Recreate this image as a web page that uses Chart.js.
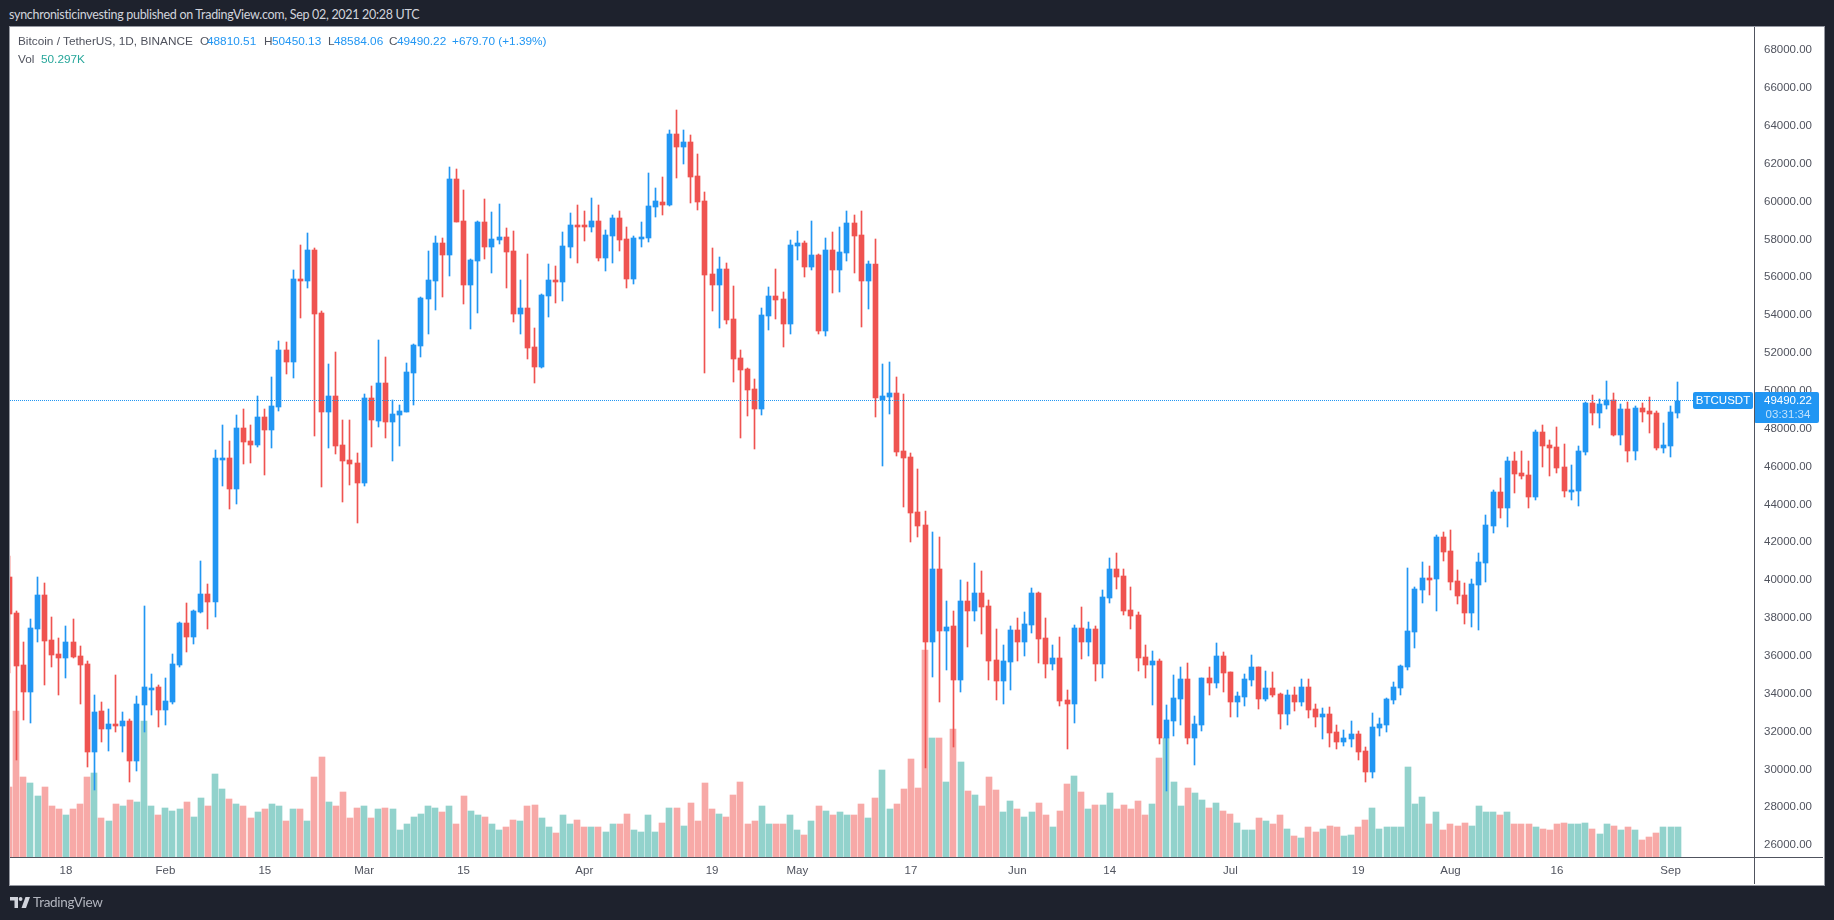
<!DOCTYPE html>
<html>
<head>
<meta charset="utf-8">
<title>BTCUSDT</title>
<script src="https://cdn.jsdelivr.net/npm/chart.js@4/dist/chart.umd.min.js"></script>
<style>
  html, body { margin: 0; padding: 0; background: #1e222d; width: 1834px; height: 920px; overflow: hidden; }
  body { position: relative; font-family: "Liberation Sans", sans-serif; }
  #frame { position: absolute; left: 9px; top: 26px; width: 1814px; height: 858px; background: #fff; border: 1px solid #9598a1; }
  #chart { position: absolute; left: 0; top: 0; }
  .rule { position: absolute; background: #50535e; }
  .txt { position: absolute; white-space: nowrap; font-size: 11.8px; line-height: 14px; color: #50535e; }
  .val { color: #2196f3; }
  #pub { position: absolute; left: 9px; top: 6px; font-family: Lato, sans-serif; font-size: 12.5px; letter-spacing: -0.3px; line-height: 17px; color: #d1d4dc; white-space: nowrap; }
  #brand { position: absolute; left: 33px; top: 893px; font-family: Lato, sans-serif; font-size: 13.5px; letter-spacing: -0.3px; line-height: 18px; color: #b2b5be; }
  #logo { position: absolute; left: 10px; top: 897px; }
</style>
</head>
<body>
<div id="pub">synchronisticinvesting published on TradingView.com, Sep 02, 2021 20:28 UTC</div>
<div id="frame"></div>
<canvas id="chart" width="1834" height="920"></canvas>
<div class="rule" style="left:10px;top:857px;width:1813px;height:1px"></div>
<div class="rule" style="left:1754px;top:27px;width:1px;height:857px"></div>

<span class="txt" style="left:18px;top:34px">Bitcoin / TetherUS, 1D, BINANCE</span>
<span class="txt" style="left:200px;top:34px">O</span><span class="txt val" style="left:207px;top:34px">48810.51</span>
<span class="txt" style="left:264px;top:34px">H</span><span class="txt val" style="left:272px;top:34px">50450.13</span>
<span class="txt" style="left:328px;top:34px">L</span><span class="txt val" style="left:334px;top:34px">48584.06</span>
<span class="txt" style="left:389px;top:34px">C</span><span class="txt val" style="left:397px;top:34px">49490.22</span>
<span class="txt val" style="left:452px;top:34px">+679.70 (+1.39%)</span>
<span class="txt" style="left:18px;top:52px">Vol</span><span class="txt" style="left:41px;top:52px;color:#26a69a">50.297K</span>

<svg id="logo" width="20" height="11" viewBox="0 0 20 11">
  <path fill="#d1d4dc" d="M0 0h8v11H4.5V3.6H0z"/>
  <circle fill="#d1d4dc" cx="10.6" cy="2" r="1.9"/>
  <path fill="#d1d4dc" d="M15.5 0H20l-4 11h-4.5z"/>
</svg>
<div id="brand">TradingView</div>

<script>
// ── Data (Jan 10 → Sep 2, 2021, one entry per day) ─────────────────────────────

const opens = [
  40156,38254,35504,34077,37423,39205,36824,36085,35873,36719,
  35979,35556,30907,33073,32122,32387,32281,32545,30432,33390,
  34300,34341,33126,33549,35504,37722,36983,38307,39258,38835,
  46400,46443,44805,48028,47341,47130,48609,47922,49137,52148,
  51514,55885,55797,57434,54103,48873,49718,47130,46337,46179,
  45122,49613,48397,50405,48345,48715,48873,50933,52360,54846,
  55797,57803,57169,61184,58966,55585,56852,58913,57592,57962,
  58120,57381,54052,54369,52309,51252,55003,55849,55743,57592,
  58740,58754,58649,58966,57011,58173,59124,58015,55901,58015,
  58067,59705,59969,59811,63562,62875,63139,61343,60022,56166,
  55585,56430,53788,51728,51147,50090,49033,53947,55003,54845,
  53524,57645,57803,56535,57169,53154,57433,56377,57275,58860,
  58226,55796,56694,49509,49667,49876,46812,46495,43590,42903,
  36719,40578,37303,37567,34711,38888,38359,39310,38624,35768,
  34658,35662,37353,36719,37620,39310,36930,35556,35873,33655,
  33443,37458,36719,37405,35556,39046,40578,40208,38413,38148,
  35926,35504,35715,31647,32545,33708,34764,31647,32334,34817,
  34553,35979,35134,33549,33813,34711,35398,33707,34289,33972,
  32915,33919,33549,34341,33179,32756,32915,31964,31436,31594,
  31859,30960,29851,32175,32334,33655,34289,35398,37249,39468,
  40085,40049,42268,41528,39944,39204,38253,39732,40894,42849,
  44645,43800,46283,45649,45544,44381,47815,47128,47023,45966,
  44730,44698,46758,49347,48819,49242,49506,47657,49030,46811,
  49083,48925,48819,46970,47076,48810.51
];
const highs = [
  41300,38360,36719,37938,40156,39839,38043,36930,37564,37938,
  36507,35715,33919,33549,33179,34975,33021,32651,33866,38624,
  35028,34447,34817,36085,37800,38783,38413,41002,39786,46866,
  48186,47341,48715,49032,48186,49718,49032,50722,52624,52571,
  56378,57698,58333,57540,54209,51409,52043,48450,48450,46707,
  49824,50247,52677,51779,49507,49243,51462,52450,54950,57382,
  58174,58067,61818,61713,60603,56958,58966,60128,59441,59864,
  58596,58437,55849,57222,53313,55109,56694,56588,58384,59388,
  59811,59494,60181,59811,58490,59282,59494,58649,58173,58913,
  61501,60709,61290,63773,64830,63773,63509,62505,60498,57539,
  57064,56747,55532,52150,51200,50618,54369,55479,56430,55214,
  57962,58437,57909,58966,57222,58067,58384,58649,59494,59283,
  59494,56852,58015,51411,51517,50722,49824,46707,45861,43642,
  42533,42269,38888,38359,39997,39891,40895,40472,38941,37405,
  36560,37564,37990,38307,39575,39363,37990,36560,36983,34183,
  37617,38571,37778,37567,39469,41160,41424,40578,39627,38307,
  36560,36243,35821,33390,34975,35398,35609,32809,34850,35398,
  36666,36190,35150,34077,35028,36032,35420,35187,35134,34024,
  34183,34341,34764,34764,33443,33232,33285,32334,32070,32545,
  32017,31172,32968,32704,33760,34606,35504,40630,39626,40947,
  40736,42374,42532,42638,40525,39838,40049,41423,43430,44751,
  45385,46494,46759,46811,46283,47921,48185,47393,48079,47181,
  46072,47076,49400,49770,49559,50510,49876,49295,49400,49189,
  49347,49664,48925,48291,49189,50450.13
];
const lows = [
  35100,30502,32598,32440,36719,34447,35398,33919,34817,35873,
  33443,30115,28900,31436,30960,31964,30907,29323,29904,31964,
  32862,32228,32334,33443,35398,36190,36613,38254,37406,38043,
  44964,43749,44013,46126,46179,47024,45545,46971,48926,50881,
  50669,53839,55445,47605,44911,46971,46654,44118,45017,43009,
  44964,47024,48081,47500,46284,47077,48873,49243,51779,52994,
  54262,54950,56060,58900,54581,53260,54105,56958,56218,57750,
  55426,53630,52996,51675,50407,51200,53894,54633,54739,57011,
  56747,57909,58384,56852,56324,56747,57381,55426,55637,57592,
  57856,59177,59283,59758,61237,61977,59916,59547,50935,54211,
  53313,53524,50460,47501,48664,46920,48717,53207,53788,52309,
  52996,56905,56007,56377,52996,52890,55162,55215,56852,56218,
  53366,54317,48608,46022,48769,46548,43854,41997,42269,30062,
  34870,33549,35240,31172,34077,36455,37831,37145,34711,33655,
  33443,34183,35715,35979,37197,35609,34817,35240,33338,31066,
  32440,35821,35979,34658,34817,38782,39522,38148,37408,35187,
  34817,33390,31330,28847,31753,32334,31330,30221,32017,33919,
  34289,34077,32756,32756,33338,34394,33179,33602,33813,32122,
  32334,33073,33338,32704,32228,31594,31172,31066,31225,31172,
  30485,29323,29534,31753,31964,33443,33919,35242,36404,38781,
  39204,38359,41000,39468,38728,37672,37513,37355,39891,42479,
  43272,42796,44593,45332,43800,44223,45966,45491,45649,44381,
  44223,43906,46600,48185,48026,49030,47604,47128,46230,46336,
  48343,47762,46864,46706,46495,48584.06
];
const closes = [
  38201,35468,34077,37458,39205,36789,36032,35873,36719,35926,
  35504,30907,33021,32122,32387,32281,32545,30432,33443,34341,
  34320,33126,33602,35556,37722,36983,38360,39258,38835,46443,
  46440,44805,48028,47288,47130,48609,47922,49190,52148,51514,
  55902,55797,57434,54050,48873,49718,47077,46284,46126,45122,
  49613,48450,50405,48345,48767,48926,50986,52413,54881,55849,
  57804,57169,61184,58913,55585,56905,58913,57592,58015,58120,
  57328,54052,54369,52256,51252,55056,55849,55743,57645,58754,
  58700,58649,58966,57011,58226,59124,57962,55901,58067,58120,
  59758,60022,59811,63562,62875,63139,61290,59969,56113,55585,
  56430,53735,51675,51094,50037,49033,53999,55003,54792,53524,
  57698,57803,56535,57169,53154,57433,56377,57328,58860,58173,
  55796,56694,49615,49720,49879,46760,46443,43537,42850,36719,
  40578,37303,37514,34711,38888,38359,39310,38571,35715,34658,
  35715,37353,36719,37670,39310,36880,35556,35873,33602,33443,
  37458,36719,37405,35556,39099,40578,40156,38359,38095,35873,
  35504,35715,31647,32598,33760,34764,31647,32387,34817,34553,
  35979,35081,33549,33866,34764,35398,33707,34289,33919,32915,
  33919,33549,34341,33126,32756,32915,31911,31436,31647,31859,
  30907,29851,32228,32387,33707,34341,35451,37302,39521,40102,
  40040,42268,41476,39891,39151,38253,39785,40947,42902,44645,
  43800,46283,45596,45491,44381,47815,47076,46970,45913,44698,
  44760,46811,49347,48819,49295,49506,47657,49030,46811,49083,
  48872,48766,46970,47128,48872,49490.22
];
// thousands of BTC
const volumes = [
  117,243,132,123,102,117,85,80,70,79,
  88,133,140,65,59,88,85,95,92,226,
  84,69,82,77,80,92,67,98,84,137,
  113,97,88,85,64,74,79,88,85,60,
  79,80,59,132,166,92,84,108,65,82,
  85,64,80,82,79,45,55,67,72,84,
  82,74,84,54,102,77,70,67,54,45,
  49,62,60,84,87,64,50,40,69,55,
  62,49,49,49,42,55,55,72,45,42,
  70,42,57,82,82,52,90,59,123,79,
  72,67,103,125,55,59,85,55,55,54,
  69,44,37,59,85,77,70,74,70,70,
  88,64,98,145,80,88,113,163,115,344,
  198,198,125,213,158,110,103,85,133,112,
  74,93,80,67,75,90,70,49,77,122,
  135,108,79,87,87,107,80,87,79,93,
  69,88,165,198,125,85,115,107,95,82,
  90,77,72,57,44,44,64,59,54,70,
  47,35,32,49,42,47,52,49,35,37,
  49,62,82,47,50,49,49,150,88,100,
  54,74,45,54,52,57,52,84,75,74,
  69,74,54,54,55,49,47,44,54,57,
  55,54,57,47,39,54,52,45,50,44,
  29,34,40,49,50,50.297
];

const priceTicks = [26000,28000,30000,32000,34000,36000,38000,40000,42000,44000,46000,48000,
                    50000,52000,54000,56000,58000,60000,62000,64000,66000,68000];
const dateTicks = [8,22,36,50,64,81,99,111,127,142,155,172,190,203,218,234];   // days after Jan 10
const dateNames = ['18','Feb','15','Mar','15','Apr','19','May','17','Jun','14','Jul','19','Aug','16','Sep'];

const symbolName = 'BTCUSDT';
const lastPrice  = '49490.22';
const countdown  = '03:31:34';

// ── Colours ────────────────────────────────────────────────────────────────────

const UP = '#2196f3', DOWN = '#ef5350';
const VOL_UP = '#92d2cc', VOL_DOWN = '#f7a9a7';
const AXIS_TEXT = '#50535e';
const FONT = '"Liberation Sans", sans-serif';

const isUp = i => closes[i] >= opens[i];
const days = closes.map((_, i) => i);

// ── Plugins ────────────────────────────────────────────────────────────────────

// keep candles on whole pixels so the wicks stay crisp
const snapBars = {
  id: 'snapBars',
  beforeDatasetsDraw(chart) {
    chart.data.datasets.forEach((ds, d) => {
      if (ds.type === 'line') return;
      chart.getDatasetMeta(d).data.forEach(el => {
        const w = ds.maxBarThickness;
        el.x = w % 2 ? Math.floor(el.x) + 0.5 : Math.round(el.x);
        el.y = Math.round(el.y);
        el.base = Math.round(el.base);
        if (ds.minBody && Math.abs(el.y - el.base) < ds.minBody) el.base = el.y + ds.minBody;
      });
    });
  }
};

// symbol + price tags sitting on the axis
const priceTags = {
  id: 'priceTags',
  afterDraw(chart) {
    const ctx = chart.ctx, area = chart.chartArea;
    const y = Math.floor(chart.scales.y.getPixelForValue(closes[closes.length - 1]));
    ctx.save();
    ctx.fillStyle = UP;
    ctx.beginPath(); ctx.roundRect(area.right - 61, y - 8, 60, 17, 2); ctx.fill();
    ctx.beginPath(); ctx.roundRect(area.right, y - 8, 65, 31, 2); ctx.fill();
    ctx.textBaseline = 'middle';
    ctx.textAlign = 'center';
    ctx.font = '11.5px ' + FONT;
    ctx.fillStyle = '#fff';
    ctx.fillText(symbolName, area.right - 31, y + 0.5);
    ctx.fillText(lastPrice, area.right + 34, y + 0.5);
    ctx.fillStyle = 'rgba(255,255,255,0.72)';
    ctx.fillText(countdown, area.right + 34, y + 14.5);
    ctx.restore();
  }
};

// ── Chart ──────────────────────────────────────────────────────────────────────

new Chart(document.getElementById('chart'), {
  data: {
    datasets: [
      {
        type: 'line', order: 0,
        data: [{ x: 0.113, y: closes[closes.length - 1] }, { x: 245.75, y: closes[closes.length - 1] }],
        borderColor: UP, borderWidth: 1, borderDash: [1, 1], pointRadius: 0, yAxisID: 'y'
      },
      {
        type: 'bar', order: 1, grouped: false, barPercentage: 1, categoryPercentage: 1,
        maxBarThickness: 5, minBody: 2,
        data: days.map(i => ({ x: i, y: [opens[i], closes[i]] })),
        backgroundColor: days.map(i => isUp(i) ? UP : DOWN), borderWidth: 0, yAxisID: 'y'
      },
      {
        type: 'bar', order: 2, grouped: false, barPercentage: 1, categoryPercentage: 1,
        maxBarThickness: 1,
        data: days.map(i => ({ x: i, y: [lows[i], highs[i]] })),
        backgroundColor: days.map(i => isUp(i) ? UP : DOWN), borderWidth: 0, yAxisID: 'y'
      },
      {
        type: 'bar', order: 3, grouped: false, barPercentage: 1, categoryPercentage: 1,
        maxBarThickness: 6,
        data: days.map(i => ({ x: i, y: volumes[i] })),
        backgroundColor: days.map(i => isUp(i) ? VOL_UP : VOL_DOWN), borderWidth: 0, yAxisID: 'vol'
      }
    ]
  },
  options: {
    responsive: false,
    animation: false,
    events: [],
    layout: { padding: { left: 10, top: 27, right: 11, bottom: 36 } },
    plugins: { legend: { display: false }, tooltip: { enabled: false } },
    scales: {
      x: {
        type: 'linear', min: 0.113, max: 245.75, offset: false,
        grid: { display: false, tickLength: 0 }, border: { display: false },
        afterBuildTicks: s => { s.ticks = dateTicks.map(v => ({ value: v })); },
        afterFit: s => { s.height = 27; },
        ticks: {
          autoSkip: false, maxRotation: 0, padding: 7,
          color: AXIS_TEXT, font: { family: FONT, size: 11.5 },
          callback: (v, i) => dateNames[i]
        }
      },
      y: {
        position: 'right', min: 25369, max: 69226,
        grid: { display: false, tickLength: 0 }, border: { display: false },
        afterBuildTicks: s => { s.ticks = priceTicks.map(v => ({ value: v })); },
        afterFit: s => { s.width = 69; },
        ticks: {
          autoSkip: false, padding: 10, crossAlign: 'near',
          color: AXIS_TEXT, font: { family: FONT, size: 11.5 },
          callback: v => v.toFixed(2)
        }
      },
      vol: { display: false, position: 'right', min: 0, max: 1378 }
    }
  },
  plugins: [snapBars, priceTags]
});
</script>
</body>
</html>
